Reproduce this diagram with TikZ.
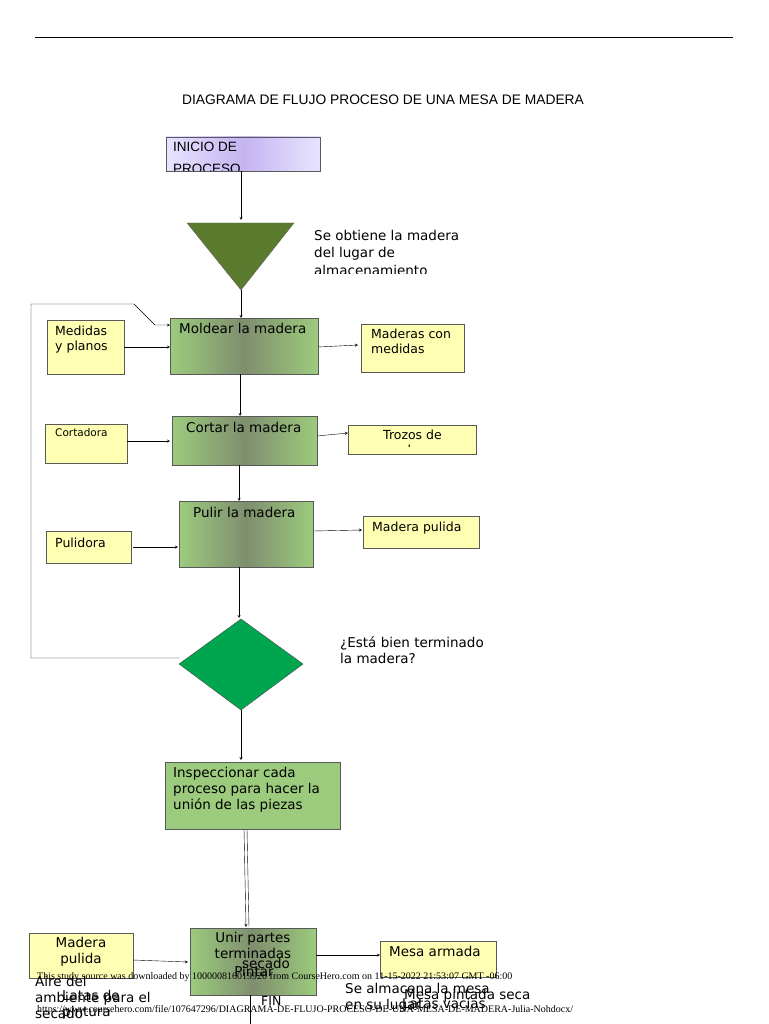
\documentclass[tikz,border=0pt]{standalone}
\usepackage{fontspec}
\setmainfont{DejaVu Sans}
\newfontfamily\titlef{Liberation Sans}
\newfontfamily\wmf{Liberation Serif}
\usetikzlibrary{shapes.geometric}
\definecolor{gbox}{HTML}{9CCB7E}
\definecolor{gmid}{HTML}{7F8E6E}
\definecolor{ybox}{HTML}{FFFFB4}
\definecolor{lav}{HTML}{E8E4FF}
\definecolor{lavm}{HTML}{C4B4F0}
\definecolor{tri}{HTML}{5A7A2E}
\definecolor{dia}{HTML}{00A550}
\begin{document}
\begin{tikzpicture}[x=1pt,y=-1pt,
  gb/.style={draw=gray!70!black,shading=axis,left color=gbox,right color=gbox,middle color=gmid,shading angle=90},
  yb/.style={draw=gray!70!black,fill=ybox},
  t/.style={anchor=north west,inner sep=0pt,align=left,font=\fontsize{13.5}{16}\selectfont},
  ts/.style={anchor=north west,inner sep=0pt,align=left,font=\fontsize{12.5}{15}\selectfont},
  ar/.style={-stealth,black}]
\useasboundingbox (0,0) rectangle (768,1024);
\draw (35,37) -- (733,37);
\node[font=\titlef\fontsize{13.8}{16}\selectfont] (title) at (383,100) {DIAGRAMA DE FLUJO PROCESO DE UNA MESA DE MADERA};
% inicio
\shade[draw=gray!70!black,shading=axis,left color=lav,right color=lav,middle color=lavm,shading angle=90] (166,137) rectangle (320,171);
\begin{scope}\clip (166,137) rectangle (320,171);
\node[t,font=\titlef\fontsize{13.5}{18}\selectfont] (initxt) at (173,142) {INICIO DE\\[4pt]PROCESO};
\end{scope}
\coordinate (iniB) at (241,171);
\fill[tri,draw=black!60] (187,223) -- (294,223) -- (241,290) -- cycle;
\coordinate (triT) at (241,220);
\coordinate (triB) at (241,290);
\draw[ar] (iniB) -- (triT);
\begin{scope}\clip (300,220) rectangle (480,273);
\node[t,font=\fontsize{13.5}{17.5}\selectfont] (obt) at (314,230) {Se obtiene la madera\\del lugar de\\almacenamiento};
\end{scope}
% moldear
\shade[gb] (170,318) rectangle (318,374);
\node[t] (mold) at (179,323) {Moldear la madera};
\draw[ar] (triB) -- (241,318);
\draw[yb] (47,320) rectangle (124,374);
\node[ts] (med) at (55,326) {Medidas\\y planos};
\draw[ar] (124,347) -- (170,347);
\draw[yb] (361,324) rectangle (464,372);
\node[ts] (mcm) at (371,329) {Maderas con\\medidas};
\draw[ar] (318,347) -- (358,345);
\draw[ar] (240,374) -- (240,416);
% cortar
\shade[gb] (172,416) rectangle (317,465);
\node[t] (cort) at (186,422) {Cortar la madera};
\draw[yb] (45,424) rectangle (127,463);
\node[ts,font=\fontsize{10.5}{12}\selectfont] (cortad) at (55,428) {Cortadora};
\draw[ar] (127,441) -- (170,441);
\draw[yb] (348,425) rectangle (476,454);
\begin{scope}\clip (348,425) rectangle (476,446);
\node[ts] (troz) at (383,430) {Trozos de\\madera};
\end{scope}
\draw[ar] (317,436) -- (348,433);
\draw[ar] (239,465) -- (239,501);
% pulir
\shade[gb] (179,501) rectangle (313,567);
\node[t] (pul) at (193,507) {Pulir la madera};
\draw[yb] (46,531) rectangle (131,563);
\node[ts] (puld) at (55,538) {Pulidora};
\draw[ar] (133,547) -- (178,547);
\draw[yb] (363,516) rectangle (479,548);
\node[ts] (mp) at (372,522) {Madera pulida};
\draw[ar] (313,531) -- (362,530);
\draw[ar] (239,567) -- (239,618);
% diamond
\fill[dia,draw=black!70] (241,619) -- (303,664) -- (241,710) -- (179,664) -- cycle;
\node[t] (q) at (340,636) {¿Está bien terminado\\la madera?};
\draw[ar] (179,658) -- (31,658) -- (31,304) -- (134,304) -- (155,325) -- (170,325);
\draw[ar] (241,710) -- (241,760);
% inspeccionar
\fill[gbox,draw=gray!70!black] (165,762) rectangle (340,829);
\node[t] (insp) at (173,767) {Inspeccionar cada\\proceso para hacer la\\unión de las piezas};
\draw[ar] (244,829) -- (246,927);
\draw (247,829) -- (249,927);
% unir
\shade[gb] (190,928) rectangle (316,995);
\draw (250,995) -- (250,1024);
\node[t,align=center,anchor=north] (unir) at (253,932) {Unir partes\\terminadas};
\node[t,anchor=north] (sec) at (266,958) {secado};
\node[t,anchor=north] (pint) at (254,966) {Pintar};
\draw[yb] (29,933) rectangle (133,978);
\node[t,align=center,anchor=north] (mp2) at (81,937) {Madera\\pulida};
\draw[ar] (133,960) -- (188,962);
\draw[yb] (380,941) rectangle (496,977);
\node[t] (ma) at (389,946) {Mesa armada};
\draw[ar] (316,955) -- (380,955);
% overlapping bottom texts
\node[t] (aire) at (35,976) {Aire del\\ambiente para el\\secado};
\node[t] (latas) at (62,990) {Latas de\\pintura};
\node[ts] (fin) at (261,996) {FIN};
\node[t] (alm) at (345,983) {Se almacena la mesa\\en su lugar};
\node[t] (mps) at (404,989) {Mesa pintada seca};
\node[t] (lv) at (402,997) {Latas vacías};
\node[anchor=west,inner sep=0pt,font=\wmf\fontsize{10}{12}\selectfont] (wm1) at (37,977) {This study source was downloaded by 100000816019920 from CourseHero.com on 11-15-2022 21:53:07 GMT -06:00};
\node[anchor=west,inner sep=0pt,font=\wmf\fontsize{10}{12}\selectfont] (wm2) at (37,1010) {https://www.coursehero.com/file/107647296/DIAGRAMA-DE-FLUJO-PROCESO-DE-UNA-MESA-DE-MADERA-Julia-Nohdocx/};
\end{tikzpicture}
\end{document}
